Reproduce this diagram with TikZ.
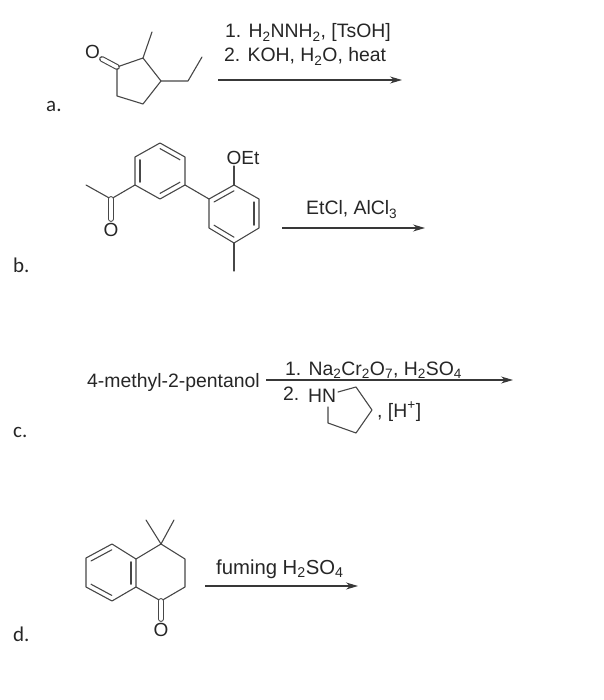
\documentclass[tikz,border=0pt]{standalone}
\usepackage{fontspec}
\setmainfont{Liberation Sans}
\newfontfamily\labelfont{Carlito}
\usetikzlibrary{arrows.meta,calc}
\newcommand{\innerbond}[3]{\draw[bond] ($(#1)!0.2!(#3)$) -- ($(#2)!0.2!(#3)$);}

\begin{document}
\begin{tikzpicture}[
  x=1pt, y=-1pt,
  bond/.style={line width=1.1pt, black!72, line cap=round, line join=round},
  dbl/.style={bond, double, double distance=3.6pt},
  arr/.style={-{Stealth[length=12pt, width=7pt]}, line width=1.1pt, black!78},
  reagent/.style={anchor=base west, inner sep=0pt, font=\fontsize{19.4}{21}\selectfont, text=black!85},
  atom/.style={inner sep=0pt, font=\fontsize{19}{21}\selectfont, text=black!85},
  partlabel/.style={anchor=base west, inner sep=0pt, font=\labelfont\fontsize{21}{23}\selectfont, text=black!85}
]
  \useasboundingbox (0,0) rectangle (603,700);

  % part a
  \node[partlabel] (la) at (46,112) {a.};
  \coordinate (a1) at (117,67);
  \coordinate (a2) at (143,58);
  \coordinate (a3) at (161,81);
  \coordinate (a4) at (143,104);
  \coordinate (a5) at (117,96);
  \coordinate (ame) at (152,32);
  \coordinate (aet1) at (188,81);
  \coordinate (aet2) at (202,57);
  \coordinate (ao) at (102,59);
  \node[atom] (aO) at (92.5,52) {O};
  \draw[bond] (a1) -- (a2) -- (a3) -- (a4) -- (a5) -- cycle;
  \draw[bond] (a2) -- (ame);
  \draw[bond] (a3) -- (aet1) -- (aet2);
  \draw[dbl] (a1) -- (ao);
  \node[reagent] (ra1) at (225,38) {1. H\textsubscript{2}NNH\textsubscript{2}, [TsOH]};
  \node[reagent] (ra2) at (224,62) {2. KOH, H\textsubscript{2}O, heat};
  \coordinate (as) at (218,80);
  \coordinate (ae) at (402,80);
  \draw[arr] (as) -- (ae);

  % part b
  \node[partlabel] (lb) at (13,272) {b.};
  \coordinate (b1) at (160,143);
  \coordinate (b2) at (185,157);
  \coordinate (b3) at (185,185);
  \coordinate (b4) at (160,199);
  \coordinate (b5) at (135,185);
  \coordinate (b6) at (135,157);
  \coordinate (bc) at (160,171);
  \draw[bond] (b1) -- (b2) -- (b3) -- (b4) -- (b5) -- (b6) -- cycle;
  \innerbond{b1}{b2}{bc}
  \innerbond{b3}{b4}{bc}
  \innerbond{b5}{b6}{bc}
  \coordinate (bac) at (111,199);
  \coordinate (bme) at (86,185);
  \coordinate (bo) at (111,219);
  \node[atom] (bO) at (111,230) {O};
  \draw[bond] (b5) -- (bac) -- (bme);
  \draw[dbl] (bac) -- (bo);
  \coordinate (d1) at (209,199);
  \coordinate (d2) at (234,185);
  \coordinate (d3) at (259,199);
  \coordinate (d4) at (259,228);
  \coordinate (d5) at (234,243);
  \coordinate (d6) at (209,228);
  \coordinate (dc) at (234,214);
  \coordinate (dme) at (234,271);
  \coordinate (doe) at (234,166);
  \draw[bond] (d1) -- (d2) -- (d3) -- (d4) -- (d5) -- (d6) -- cycle;
  \innerbond{d1}{d2}{dc}
  \innerbond{d3}{d4}{dc}
  \innerbond{d5}{d6}{dc}
  \draw[bond] (b3) -- (d1);
  \draw[bond] (d2) -- (doe);
  \draw[bond] (d5) -- (dme);
  \node[atom, anchor=base west] (bOEt) at (226.5,165) {OEt};
  \node[reagent] (rb) at (306,215) {EtCl, AlCl\textsubscript{3}};
  \coordinate (bs) at (282,228);
  \coordinate (be) at (425,228);
  \draw[arr] (bs) -- (be);

  % part c
  \node[partlabel] (lc) at (13,437) {c.};
  \node[reagent] (sm) at (87,387) {4-methyl-2-pentanol};
  \node[reagent] (rc1) at (285,375) {1. Na\textsubscript{2}Cr\textsubscript{2}O\textsubscript{7}, H\textsubscript{2}SO\textsubscript{4}};
  \node[reagent] (rc2) at (283,400) {2.};
  \node[reagent] (hn) at (308,402) {HN};
  \node[reagent] (rc3) at (377,417) {, [H\textsuperscript{+}]};
  \coordinate (p1) at (356,387);
  \coordinate (p2) at (372,410);
  \coordinate (p3) at (356,433);
  \coordinate (p4) at (328,423);
  \coordinate (p5) at (328,407);
  \coordinate (p0) at (338,392);
  \draw[bond] (p0) -- (p1) -- (p2) -- (p3) -- (p4) -- (p5);
  \coordinate (cs) at (266,380);
  \coordinate (ce) at (513,380);
  \draw[arr] (cs) -- (ce);

  % part d
  \node[partlabel] (ld) at (13,641) {d.};
  \coordinate (e1) at (112,544);
  \coordinate (e2) at (136,559);
  \coordinate (e3) at (136,587);
  \coordinate (e4) at (112,601);
  \coordinate (e5) at (86,587);
  \coordinate (e6) at (86,558);
  \coordinate (ec) at (111,573);
  \draw[bond] (e1) -- (e2) -- (e3) -- (e4) -- (e5) -- (e6) -- cycle;
  \innerbond{e6}{e1}{ec}
  \innerbond{e2}{e3}{ec}
  \innerbond{e4}{e5}{ec}
  \coordinate (f1) at (161,544);
  \coordinate (f2) at (185,559);
  \coordinate (f3) at (185,587);
  \coordinate (f4) at (161,601);
  \coordinate (fa) at (146,520);
  \coordinate (fb) at (174,520);
  \coordinate (fo) at (161,619);
  \node[atom] (dO) at (161,630) {O};
  \draw[bond] (e2) -- (f1) -- (f2) -- (f3) -- (f4) -- (e3);
  \draw[bond] (f1) -- (fa);
  \draw[bond] (f1) -- (fb);
  \draw[dbl] (f4) -- (fo);
  \node[reagent, font=\fontsize{20.3}{22}\selectfont] (rd) at (216,574) {fuming H\textsubscript{2}SO\textsubscript{4}};
  \coordinate (ds) at (205,586);
  \coordinate (de) at (358,586);
  \draw[arr] (ds) -- (de);
\end{tikzpicture}
\end{document}
